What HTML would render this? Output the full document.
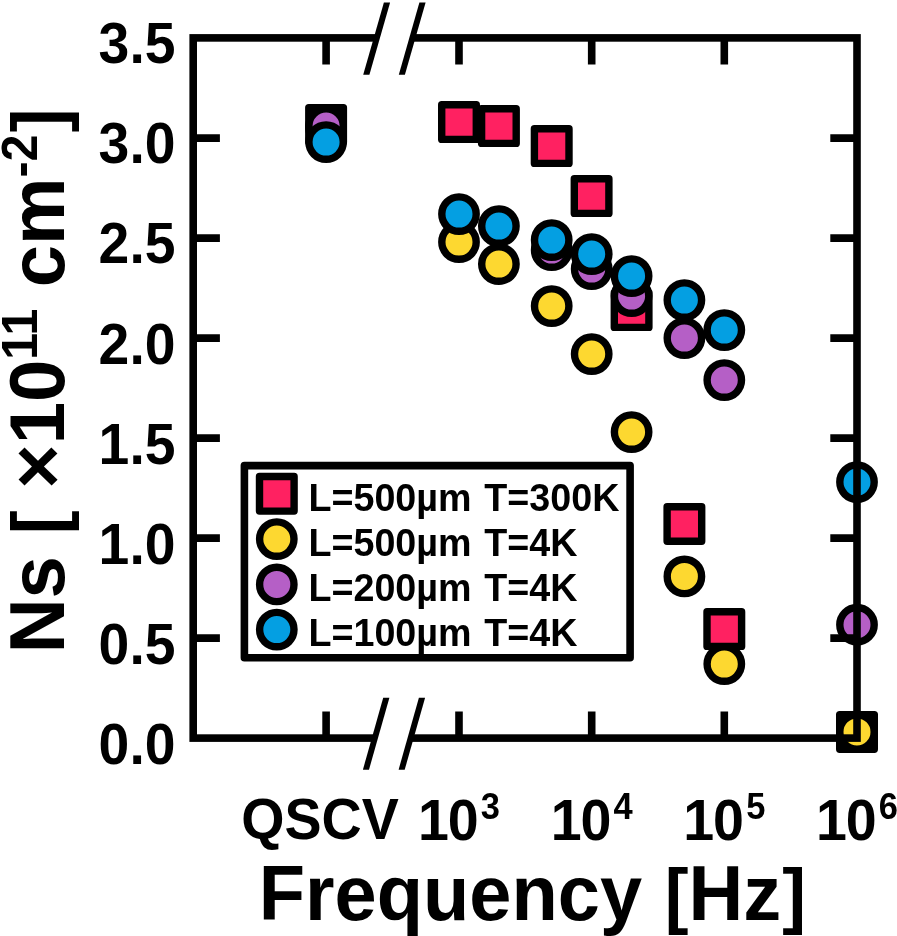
<!DOCTYPE html>
<html lang="en"><head><meta charset="utf-8"><title>Ns vs Frequency</title>
<style>html,body{margin:0;padding:0;background:#fff}body{width:897px;height:936px;overflow:hidden}svg{display:block}text{font-family:"Liberation Sans",sans-serif;font-weight:700;fill:#000}</style></head><body>
<svg width="897" height="936" viewBox="0 0 897 936">
<rect width="897" height="936" fill="#fff"/>
<g fill="#ff2161" stroke="#000" stroke-width="7.40" stroke-linejoin="round"><rect x="308.8" y="107.6" width="34.6" height="34.6"/><rect x="441.7" y="104.8" width="34.6" height="34.6"/><rect x="481.6" y="108.8" width="34.6" height="34.6"/><rect x="534.4" y="128.8" width="34.6" height="34.6"/><rect x="574.3" y="178.8" width="34.6" height="34.6"/><rect x="614.3" y="292.8" width="34.6" height="34.6"/><rect x="667.1" y="506.7" width="34.6" height="34.6"/><rect x="707.0" y="611.8" width="34.6" height="34.6"/><rect x="839.7" y="714.6" width="34.6" height="34.6"/></g>
<g fill="#fdd830" stroke="#000" stroke-width="7.40"><circle cx="326.1" cy="128.1" r="17.2"/><circle cx="459.0" cy="242.1" r="17.2"/><circle cx="498.9" cy="264.1" r="17.2"/><circle cx="551.7" cy="306.1" r="17.2"/><circle cx="591.7" cy="354.1" r="17.2"/><circle cx="631.6" cy="432.1" r="17.2"/><circle cx="684.4" cy="576.4" r="17.2"/><circle cx="724.3" cy="664.1" r="17.2"/><circle cx="857.0" cy="731.9" r="17.2"/></g>
<g fill="#b55fc6" stroke="#000" stroke-width="7.40"><circle cx="326.1" cy="126.1" r="17.2"/><circle cx="551.7" cy="250.1" r="17.2"/><circle cx="591.7" cy="269.1" r="17.2"/><circle cx="631.6" cy="296.1" r="17.2"/><circle cx="684.4" cy="338.1" r="17.2"/><circle cx="724.3" cy="380.1" r="17.2"/><circle cx="857.0" cy="624.7" r="17.2"/></g>
<g fill="#049fe2" stroke="#000" stroke-width="7.40"><circle cx="326.1" cy="142.1" r="17.2"/><circle cx="459.0" cy="214.1" r="17.2"/><circle cx="498.9" cy="226.1" r="17.2"/><circle cx="551.7" cy="240.1" r="17.2"/><circle cx="591.7" cy="254.1" r="17.2"/><circle cx="631.6" cy="276.1" r="17.2"/><circle cx="684.4" cy="300.1" r="17.2"/><circle cx="724.3" cy="330.1" r="17.2"/><circle cx="857.0" cy="482.1" r="17.2"/></g>
<g stroke="#000" stroke-width="7.60" fill="none" stroke-linecap="butt">
<rect x="193.2" y="37.9" width="663.8" height="700.2"/>
<path d="M193.2 638.1h26.7M857.0 638.1h-26.7M193.2 538.1h26.7M857.0 538.1h-26.7M193.2 438.1h26.7M857.0 438.1h-26.7M193.2 338.1h26.7M857.0 338.1h-26.7M193.2 238.1h26.7M857.0 238.1h-26.7M193.2 138.1h26.7M857.0 138.1h-26.7M326.1 37.9v26.7M326.1 738.1v-26.7M459.0 37.9v26.7M459.0 738.1v-26.7M591.7 37.9v26.7M591.7 738.1v-26.7M724.3 37.9v26.7M724.3 738.1v-26.7"/>
</g>
<polygon points="387.0,2.5 422.5,2.5 401.8,74.7 366.3,74.7" fill="#fff"/><polygon points="383.9,2.5 390.1,2.5 369.4,74.7 363.2,74.7" fill="#000"/><polygon points="419.4,2.5 425.6,2.5 404.9,74.7 398.8,74.7" fill="#000"/>
<polygon points="386.3,697.7 422.0,697.7 401.6,769.7 365.9,769.7" fill="#fff"/><polygon points="383.2,697.7 389.4,697.7 369.0,769.7 362.9,769.7" fill="#000"/><polygon points="418.9,697.7 425.1,697.7 404.7,769.7 398.6,769.7" fill="#000"/>
<rect x="244.4" y="465.6" width="385.7" height="192.1" fill="#fff" stroke="#000" stroke-width="7.6" stroke-linejoin="round"/>
<rect x="259.5" y="476.5" width="34.6" height="34.6" fill="#ff2161" stroke="#000" stroke-width="7.40" stroke-linejoin="round"/>
<circle cx="276.8" cy="539.1" r="17.2" fill="#fdd830" stroke="#000" stroke-width="7.40"/>
<circle cx="276.8" cy="584.4" r="17.2" fill="#b55fc6" stroke="#000" stroke-width="7.40"/>
<circle cx="276.8" cy="629.6" r="17.2" fill="#049fe2" stroke="#000" stroke-width="7.40"/>
<text transform="translate(308.4 511.1) scale(1 1.045)" font-size="37.7">L=500µm<tspan dx="2.3"> T=300K</tspan></text>
<text transform="translate(308.4 556.0) scale(1 1.045)" font-size="37.7">L=500µm<tspan dx="2.3"> T=4K</tspan></text>
<text transform="translate(308.4 601.2) scale(1 1.045)" font-size="37.7">L=200µm<tspan dx="2.3"> T=4K</tspan></text>
<text transform="translate(308.4 646.4) scale(1 1.045)" font-size="37.7">L=100µm<tspan dx="2.3"> T=4K</tspan></text>
<text transform="translate(175.5 764.4) scale(1 1.043)" font-size="55.3" text-anchor="end">0.0</text>
<text transform="translate(175.5 664.2) scale(1 1.043)" font-size="55.3" text-anchor="end">0.5</text>
<text transform="translate(175.5 564.0) scale(1 1.043)" font-size="55.3" text-anchor="end">1.0</text>
<text transform="translate(175.5 463.8) scale(1 1.043)" font-size="55.3" text-anchor="end">1.5</text>
<text transform="translate(175.5 363.6) scale(1 1.043)" font-size="55.3" text-anchor="end">2.0</text>
<text transform="translate(175.5 263.4) scale(1 1.043)" font-size="55.3" text-anchor="end">2.5</text>
<text transform="translate(175.5 163.2) scale(1 1.043)" font-size="55.3" text-anchor="end">3.0</text>
<text transform="translate(175.5 63.0) scale(1 1.043)" font-size="55.3" text-anchor="end">3.5</text>
<text transform="translate(241.3 839.3) scale(1 1.045)" font-size="55.6">QSCV</text>
<text transform="translate(418.0 839.6) scale(1 1.045)" font-size="55.6">1<tspan dx="-1.2">0</tspan><tspan font-size="34.5" dx="2.2" dy="-19.5">3</tspan></text>
<text transform="translate(550.7 839.6) scale(1 1.045)" font-size="55.6">1<tspan dx="-1.2">0</tspan><tspan font-size="34.5" dx="2.2" dy="-19.5">4</tspan></text>
<text transform="translate(683.3 839.6) scale(1 1.045)" font-size="55.6">1<tspan dx="-1.2">0</tspan><tspan font-size="34.5" dx="2.2" dy="-19.5">5</tspan></text>
<text transform="translate(816.0 839.6) scale(1 1.045)" font-size="55.6">1<tspan dx="-1.2">0</tspan><tspan font-size="34.5" dx="2.2" dy="-19.5">6</tspan></text>
<text transform="translate(258.8 919.7) scale(1 1.018)" font-size="75.8">Frequency <tspan font-size="71.3" dx="1.6">[</tspan>Hz<tspan font-size="71.3" dx="1.2">]</tspan></text>
<text transform="translate(64.4 653.3) rotate(-90) scale(1 1.025)" font-size="76.0">Ns <tspan font-size="71.5" dx="0.8">[</tspan><tspan dx="0.7"> ×10</tspan><tspan font-size="48.5" dy="-26.8">11</tspan><tspan dy="26.8"> cm</tspan><tspan font-size="48.5" dy="-26.8">-2</tspan><tspan font-size="71.5" dx="2.2" dy="26.8">]</tspan></text>
</svg></body></html>
